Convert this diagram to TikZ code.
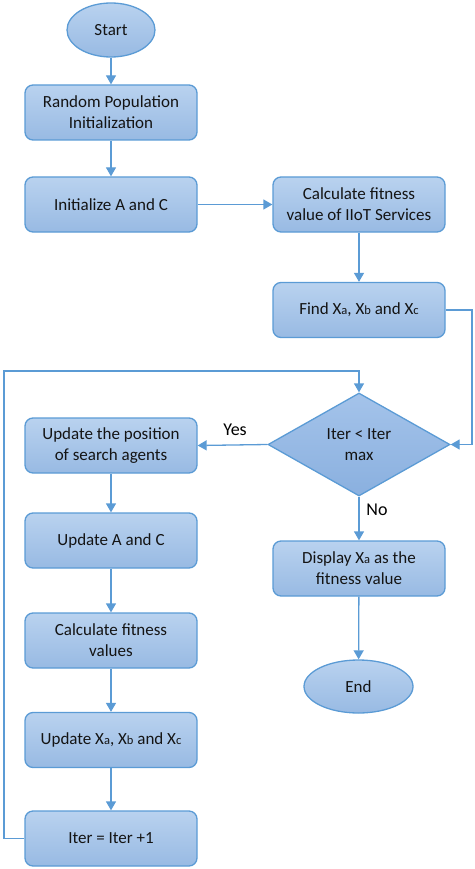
\documentclass[tikz,border=0pt]{standalone}
\usepackage{fontspec}
\setmainfont{Carlito}
\usetikzlibrary{shapes.geometric,arrows.meta}
\definecolor{edgeblue}{HTML}{5B9BD5}
\definecolor{topfill}{HTML}{B9D2EF}
\definecolor{botfill}{HTML}{98BAE3}
\definecolor{dtopfill}{HTML}{A4C3EA}
\definecolor{dbotfill}{HTML}{8AB0DF}
\definecolor{txt}{HTML}{141414}
\newcommand{\sx}[1]{{\fontsize{12.5}{12.5}\selectfont #1}}
\tikzset{
  x=1pt, y=-1pt,
  every node/.style={font=\fontsize{17}{21}\selectfont, text=txt},
  procbox/.style={draw=edgeblue, line width=1.3pt, rounded corners=8pt, top color=topfill, bottom color=botfill, minimum width=172pt, minimum height=55pt, align=center, inner sep=2pt},
  termnode/.style={ellipse, draw=edgeblue, line width=1.3pt, top color=topfill, bottom color=botfill, inner sep=0pt},
  decnode/.style={diamond, draw=edgeblue, line width=1.3pt, top color=dtopfill, bottom color=dbotfill, minimum width=182pt, minimum height=103pt, aspect=1.77, inner sep=0pt, align=center},
  flow/.style={draw=edgeblue, line width=1.3pt, -{Triangle[width=10pt,length=9pt]}},
  lbl/.style={font=\fontsize{18}{20}\selectfont, text=black}
}
\begin{document}
\begin{tikzpicture}
\useasboundingbox (0,0) rectangle (474,869);
\node[termnode, minimum width=88pt, minimum height=54pt] (start) at (111,30) {Start};
\node[procbox] (rand) at (111,112.5) {Random Population\\Initialization};
\node[procbox] (init) at (111,204.5) {Initialize A and C};
\node[procbox] (calc) at (359,204.5) {Calculate fitness\\value of IIoT Services};
\node[procbox] (find) at (359,310) {Find X\sx{a}, X\sx{b} and X\sx{c}};
\node[decnode] (dec) at (359,444.5) {};
\node at (359,444.5) [align=center] {Iter < Iter\\max};
\node[procbox] (upos) at (111,445.5) {Update the position\\of search agents};
\node[procbox] (uac) at (111,540.5) {Update A and C};
\node[procbox] (cfv) at (111,640.5) {Calculate fitness\\values};
\node[procbox] (uxa) at (111,740) {Update X\sx{a}, X\sx{b} and X\sx{c}};
\node[procbox] (iter) at (111,838.5) {Iter = Iter +1};
\node[procbox] (disp) at (359,568.5) {Display X\sx{a} as the\\fitness value};
\node[termnode, minimum width=109pt, minimum height=53pt] (end) at (358.5,686.5) {End};
\coordinate (r1) at (472,310);
\coordinate (r2) at (472,444.5);
\coordinate (l1) at (4,838.5);
\coordinate (l2) at (4,371);
\coordinate (l3) at (359,371);
\draw[flow] (start) -- (rand);
\draw[flow] (rand) -- (init);
\draw[flow] (init) -- (calc);
\draw[flow] (calc) -- (find);
\draw[flow] (find.east) -- (r1) -- (r2) -- (dec.east);
\draw[flow] (dec.west) -- (upos.east);
\draw[flow] (upos) -- (uac);
\draw[flow] (uac) -- (cfv);
\draw[flow] (cfv) -- (uxa);
\draw[flow] (uxa) -- (iter);
\draw[flow] (iter.west) -- (l1) -- (l2) -- (l3) -- (dec.north);
\draw[flow] (dec.south) -- (disp.north);
\draw[flow] (disp) -- (end);
\node[lbl] (yes) at (235,430) {Yes};
\node[lbl] (no) at (377,510) {No};
\end{tikzpicture}
\end{document}
